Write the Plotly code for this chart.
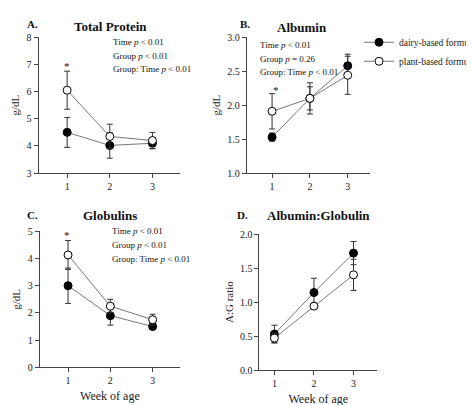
import plotly.graph_objects as go

weeks = [1, 2, 3]
tp_dairy = [4.5, 4.02, 4.1]; tp_dairy_err = [0.55, 0.47, 0.2]
tp_plant = [6.05, 4.35, 4.2]; tp_plant_err = [0.7, 0.45, 0.3]
alb_dairy = [1.53, 2.1, 2.58]; alb_dairy_err = [0.06, 0.17, 0.17]
alb_plant = [1.91, 2.1, 2.44]; alb_plant_err = [0.26, 0.23, 0.28]
glob_dairy = [3.0, 1.9, 1.5]; glob_dairy_err = [0.65, 0.35, 0.1]
glob_plant = [4.13, 2.25, 1.75]; glob_plant_err = [0.53, 0.25, 0.2]
ag_dairy = [0.53, 1.14, 1.72]; ag_dairy_err = [0.13, 0.21, 0.17]
ag_plant = [0.47, 0.94, 1.4]; ag_plant_err = [0.07, 0.04, 0.23]

FONT = "Liberation Serif"
fig = go.Figure()
panels = [
    ("x", "y", tp_dairy, tp_dairy_err, tp_plant, tp_plant_err),
    ("x2", "y2", alb_dairy, alb_dairy_err, alb_plant, alb_plant_err),
    ("x3", "y3", glob_dairy, glob_dairy_err, glob_plant, glob_plant_err),
    ("x4", "y4", ag_dairy, ag_dairy_err, ag_plant, ag_plant_err),
]
for i, (xa, ya, d, de, p, pe) in enumerate(panels):
    for name, vals, err, fill in [("dairy-based formula", d, de, "black"),
                                  ("plant-based formula", p, pe, "white")]:
        fig.add_trace(go.Scatter(
            x=weeks, y=vals, xaxis=xa, yaxis=ya, name=name, showlegend=(i == 1),
            mode="lines+markers", line=dict(color="#777", width=1),
            marker=dict(size=8, color=fill, line=dict(color="black", width=1)),
            error_y=dict(type="data", array=err, color="#333", thickness=1, width=3)))

def ax(dom, rng, anchor, **kw):
    return dict(domain=dom, range=rng, anchor=anchor, showgrid=False, zeroline=False, showline=True,
                linecolor="#444", linewidth=1, ticks="outside", ticklen=4, tickcolor="#444",
                tickfont=dict(family=FONT, size=10, color="#222"), **kw)

xt = dict(tickvals=weeks)
fig.update_layout(
    width=474, height=405, margin=dict(l=0, r=0, t=0, b=0),
    plot_bgcolor="white", paper_bgcolor="white",
    font=dict(family=FONT, color="#222"),
    xaxis=ax([0.0675, 0.38], [0.33, 3.65], "y", **xt),
    yaxis=ax([0.595, 0.941], [3, 8], "x", dtick=1,
             title=dict(text="g/dL", font=dict(size=11), standoff=4)),
    xaxis2=ax([0.527, 0.80], [0.33, 3.6], "y2", **xt),
    yaxis2=ax([0.595, 0.941], [1.0, 3.0], "x2", dtick=0.5, tickformat=".1f",
              title=dict(text="g/dL", font=dict(size=11), standoff=4)),
    xaxis3=ax([0.07, 0.38], [0.33, 3.65], "y3", **xt,
              title=dict(text="Week of age", font=dict(size=12), standoff=6)),
    yaxis3=ax([0.101, 0.447], [0, 5], "x3", dtick=1,
              title=dict(text="g/dL", font=dict(size=11), standoff=4)),
    xaxis4=ax([0.555, 0.815], [0.62, 3.6], "y4", **xt,
              title=dict(text="Week of age", font=dict(size=12), standoff=6)),
    yaxis4=ax([0.094, 0.44], [0, 2.0], "x4", dtick=0.5, tickformat=".1f",
              title=dict(text="A:G ratio", font=dict(size=11), standoff=4)),
    legend=dict(x=0.775, y=0.965, xanchor="left", yanchor="top",
                font=dict(family=FONT, size=9.5), bgcolor="rgba(0,0,0,0)",
                tracegroupgap=0, itemwidth=30),
)

def txt(x, y, s, size=9, bold=False, anchor="left"):
    fig.add_annotation(x=x/474, y=1-y/405, xref="paper", yref="paper", text=(f"<b>{s}</b>" if bold else s),
                       showarrow=False, xanchor=anchor, yanchor="middle",
                       font=dict(family=FONT, size=size, color="#111"), align="left")

txt(18, 10, "A.", 11, True); txt(107, 13, "Total Protein", 13, True, "center")
txt(241, 10, "B.", 11, True); txt(308, 14, "Albumin", 13, True, "center")
txt(18, 207, "C.", 11, True); txt(107, 208, "Globulins", 13, True, "center")
txt(238, 207, "D.", 11, True); txt(325, 208, "Albumin:Globulin", 13, True, "center")
stats = [(108, 29, ["Time <i>p</i> < 0.01", "Group <i>p</i> < 0.01", "Group: Time <i>p</i> < 0.01"]),
         (262, 32, ["Time <i>p</i> < 0.01", "Group <i>p</i> = 0.26", "Group: Time <i>p</i> < 0.01"]),
         (107, 224, ["Time <i>p</i> < 0.01", "Group <i>p</i> < 0.01", "Group: Time <i>p</i> < 0.01"])]
for x0, y0, lines in stats:
    for k, s in enumerate(lines):
        txt(x0, y0 + k * 14, s, 9)
txt(62, 54, "*", 11, False, "center")
txt(280, 78, "*", 11, False, "center")
txt(62, 228, "*", 11, False, "center")

fig.write_html("out.html")
